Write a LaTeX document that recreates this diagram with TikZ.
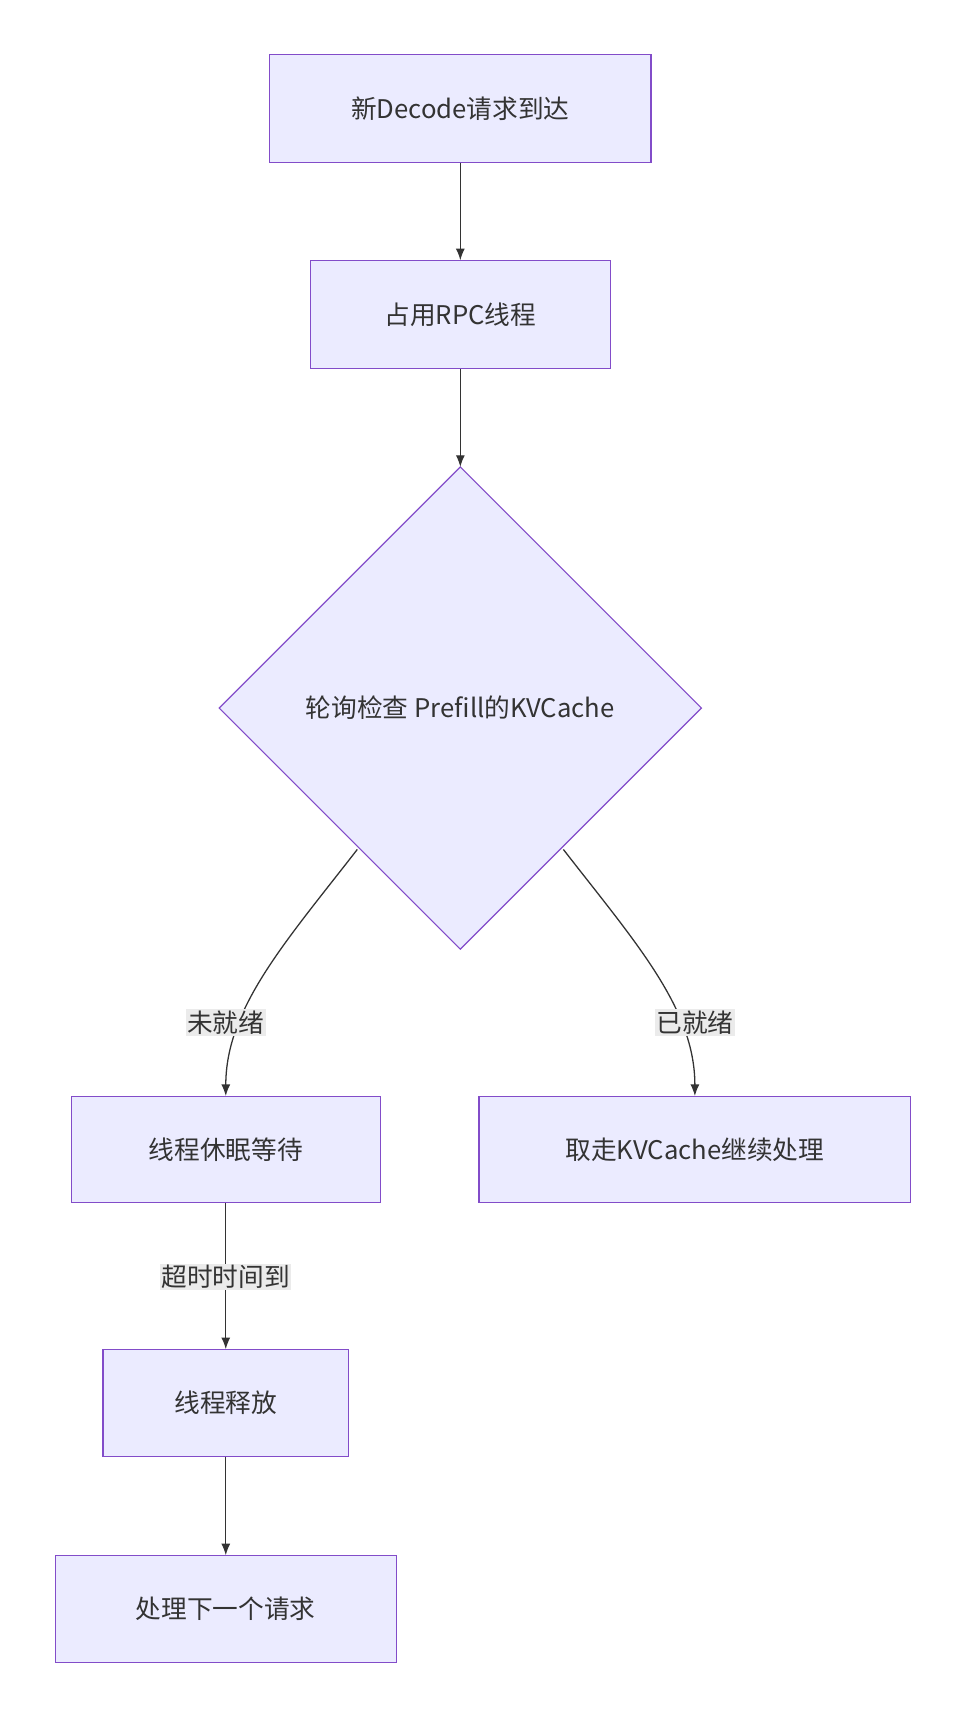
\documentclass[tikz,border=0pt]{standalone}
\usepackage{fontspec}
\setmainfont{Noto Sans CJK SC}
\usetikzlibrary{arrows.meta}
\begin{document}
\begin{tikzpicture}[x=0.03cm,y=-0.03cm,
 box/.style={draw=violet!60!blue!70,line width=0.9pt,fill=blue!8,inner sep=0,font=\fontsize{20}{24}\selectfont,text=black!80},
 lbl/.style={fill=black!8,inner sep=1pt,font=\fontsize{20}{24}\selectfont,text=black!80},
 arr/.style={draw=black!80,line width=1pt,-{Latex[length=9pt,width=7pt]}}]
\useasboundingbox (0,0) rectangle (890,1583);
\node[box,minimum width=348*0.03cm,minimum height=98*0.03cm] (n1) at (420,99) {新Decode请求到达};
\node[box,minimum width=274*0.03cm,minimum height=98*0.03cm] (n2) at (420,287) {占用RPC线程};
\draw[box] (420,426) -- (640,646) -- (420,866) -- (200,646) -- cycle;
\node[font=\fontsize{20}{24}\selectfont,text=black!80] (d) at (420,646) {轮询检查 Prefill的KVCache};
\coordinate (dl) at (326,775);
\coordinate (dr) at (514,775);
\node[box,minimum width=282*0.03cm,minimum height=97*0.03cm] (n4) at (206,1049) {线程休眠等待};
\node[box,minimum width=394*0.03cm,minimum height=97*0.03cm] (n5) at (634,1049) {取走KVCache继续处理};
\node[box,minimum width=224*0.03cm,minimum height=97*0.03cm] (n6) at (206,1280) {线程释放};
\node[box,minimum width=311*0.03cm,minimum height=97*0.03cm] (n7) at (206,1468) {处理下一个请求};
\draw[arr] (n1) -- (n2);
\draw[arr] (n2.south) -- (420,426);
\draw[arr] (dl) .. controls (260,860) and (206,920) .. (n4.north);
\draw[arr] (dr) .. controls (580,860) and (634,920) .. (n5.north);
\draw[arr] (n4) -- (n6);
\draw[arr] (n6) -- (n7);
\node[lbl] (l1) at (206,933) {未就绪};
\node[lbl] (l2) at (634,933) {已就绪};
\node[lbl] (l3) at (206,1165) {超时时间到};
\end{tikzpicture}
\end{document}
